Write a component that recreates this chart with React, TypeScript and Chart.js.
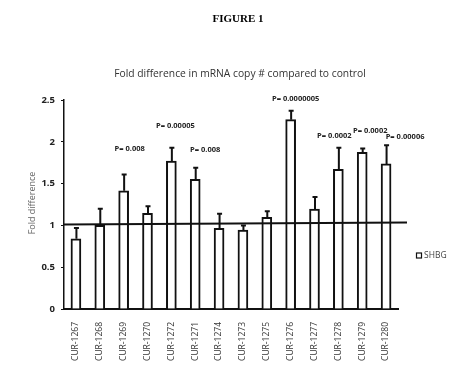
import React, { useEffect, useRef } from "react";
import { Chart, registerables } from "chart.js";

Chart.register(...registerables);

const categories = ["CUR-1267","CUR-1268","CUR-1269","CUR-1270","CUR-1272","CUR-1271","CUR-1274","CUR-1273","CUR-1275","CUR-1276","CUR-1277","CUR-1278","CUR-1279","CUR-1280"];
const values = [0.84, 1.0, 1.415, 1.145, 1.77, 1.55, 0.965, 0.945, 1.097, 2.265, 1.196, 1.67, 1.875, 1.735];
const errors = [0.13, 0.2, 0.195, 0.085, 0.16, 0.14, 0.175, 0.055, 0.073, 0.105, 0.144, 0.26, 0.045, 0.225];
const pLabels = ["", "", "P= 0.008", "", "P= 0.00005", "P= 0.008", "", "", "", "P= 0.0000005", "", "P= 0.0002", "P= 0.0002", "P= 0.00006"];
const pLabelY = [0, 0, 1.91, 0, 2.19, 1.9, 0, 0, 0, 2.51, 0, 2.07, 2.13, 2.06];
const pLabelDx = [0, 0, 6, 0, 4, 10, 0, 0, 0, 5, 0, -4, 8, 19];
const yTicks = [0, 0.5, 1, 1.5, 2, 2.5];
const refLine = [1.01, 1.035];
const seriesName = "SHBG";
const figureTitle = "FIGURE 1";
const chartTitle = "Fold difference in mRNA copy # compared to control";
const yTitle = "Fold difference";

const SANS = "'Open Sans', 'Liberation Sans', sans-serif";

const drawPlugin = {
  id: "extras",
  afterDatasetsDraw(chart: any) {
    const ctx = chart.ctx;
    const x = chart.scales.x;
    const y = chart.scales.y;
    const area = chart.chartArea;
    ctx.save();
    // error bars
    ctx.strokeStyle = "#111";
    ctx.lineWidth = 2;
    values.forEach((v, i) => {
      const cx = x.getPixelForValue(i) + 0.5;
      const y0 = y.getPixelForValue(v);
      const y1 = y.getPixelForValue(v + errors[i]);
      ctx.beginPath();
      ctx.moveTo(cx, y0);
      ctx.lineTo(cx, y1);
      ctx.moveTo(cx - 2.5, y1);
      ctx.lineTo(cx + 2.5, y1);
      ctx.stroke();
    });
    // reference line
    ctx.lineWidth = 2;
    ctx.strokeStyle = "#111";
    ctx.beginPath();
    ctx.moveTo(area.left, y.getPixelForValue(refLine[0]));
    ctx.lineTo(area.right + 9, y.getPixelForValue(refLine[1]));
    ctx.stroke();
    // p labels
    ctx.fillStyle = "#222";
    ctx.font = `bold 7.5px ${SANS}`;
    ctx.textAlign = "center";
    ctx.textBaseline = "middle";
    pLabels.forEach((t, i) => {
      if (!t) return;
      ctx.fillText(t, x.getPixelForValue(i) + pLabelDx[i], y.getPixelForValue(pLabelY[i]));
    });
    // titles
    ctx.fillStyle = "#000";
    ctx.font = "bold 11px 'Liberation Serif', 'Times New Roman', serif";
    ctx.fillText(figureTitle, 238, 19);
    ctx.fillStyle = "#333";
    ctx.font = `10.3px ${SANS}`;
    ctx.fillText(chartTitle, 240, 74);
    // y title
    ctx.save();
    ctx.translate(32, 203);
    ctx.rotate(-Math.PI / 2);
    ctx.fillStyle = "#666";
    ctx.font = `9px ${SANS}`;
    ctx.fillText(yTitle, 0, 0);
    ctx.restore();
    // legend
    ctx.fillStyle = "#fff";
    ctx.strokeStyle = "#111";
    ctx.lineWidth = 1.2;
    ctx.fillRect(416.5, 253, 5, 5);
    ctx.strokeRect(416.5, 253, 5, 5);
    ctx.fillStyle = "#444";
    ctx.font = `8.5px ${SANS}`;
    ctx.textAlign = "left";
    ctx.fillText(seriesName, 424, 256);
    ctx.restore();
  },
};

export default function App() {
  const ref = useRef<HTMLCanvasElement>(null);
  useEffect(() => {
    if (!ref.current) return;
    const chart = new Chart(ref.current, {
      type: "bar",
      data: {
        labels: categories,
        datasets: [
          {
            label: seriesName,
            data: values,
            backgroundColor: "#fff",
            borderColor: "#111",
            borderWidth: 2,
            barThickness: 10,
          },
        ],
      },
      options: {
        responsive: false,
        animation: false,
        devicePixelRatio: 1,
        layout: { padding: { left: 0, right: 76, top: 100, bottom: 0 } },
        plugins: { legend: { display: false }, title: { display: false }, tooltip: { enabled: false } },
        scales: {
          x: {
            grid: { display: false },
            border: { color: "#111", width: 2 },
            ticks: {
              minRotation: 90,
              maxRotation: 90,
              padding: 5,
              color: "#333",
              font: { family: SANS, size: 8.5 },
            },
            afterFit: (s: any) => { s.height = 71; },
          },
          y: {
            min: 0,
            max: 2.5,
            afterBuildTicks: (s: any) => { s.ticks = yTicks.map((v) => ({ value: v })); },
            grid: { display: true, drawOnChartArea: false, drawTicks: true, tickLength: 3, color: "#111" },
            border: { color: "#111", width: 1.5 },
            ticks: {
              padding: 6,
              color: "#222",
              font: { family: SANS, size: 9.5, weight: "bold" },
              callback: (v: any) => String(v),
            },
            afterFit: (s: any) => { s.width = 64; },
          },
        },
      },
      plugins: [drawPlugin],
    });
    return () => chart.destroy();
  }, []);
  return (
    <div style={{ position: "absolute", left: 0, top: 0, width: 474, height: 380, background: "#fff" }}>
      <canvas ref={ref} width={474} height={380} />
    </div>
  );
}
